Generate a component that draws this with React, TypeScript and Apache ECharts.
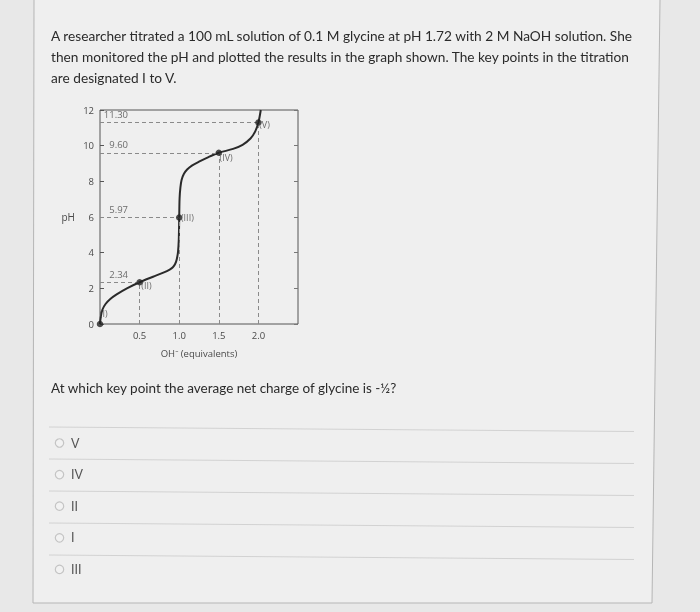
import { useEffect, useRef } from "react";
import * as echarts from "echarts";

// titration curve
const curveEq = [0, 0.01, 0.03, 0.07, 0.13, 0.21, 0.34, 0.5, 0.67, 0.8, 0.88, 0.92, 0.95, 0.97, 0.985, 0.995, 1.0, 1.005, 1.015, 1.03, 1.06, 1.1, 1.16, 1.25, 1.37, 1.5, 1.68, 1.8, 1.9, 1.96, 2.0, 2.03];
const curvePH = [0, 0.4, 0.8, 1.12, 1.4, 1.66, 2.0, 2.34, 2.65, 2.88, 3.05, 3.18, 3.38, 3.65, 4.05, 4.75, 5.97, 7.05, 7.65, 8.08, 8.42, 8.66, 8.88, 9.1, 9.36, 9.6, 9.82, 10.05, 10.4, 10.8, 11.3, 12];

// key points I..V
const keyNames = ["(I)", "(II)", "(III)", "(IV)", "(V)"];
const keyEq = [0, 0.5, 1.0, 1.5, 2.0];
const keyPH = [0, 2.34, 5.97, 9.6, 11.3];

const xTicks = ["0.5", "1.0", "1.5", "2.0"];

const questionLines = [
  "A researcher titrated a 100 mL solution of 0.1 M glycine at pH 1.72 with 2 M NaOH solution. She",
  "then monitored the pH and plotted the results in the graph shown. The key points in the titration",
  "are designated I to V.",
];
const questionText = "At which key point the average net charge of glycine is -½?";
const answers = ["V", "IV", "II", "I", "III"];

const CHART_FONT = "'Open Sans', 'Noto Sans', sans-serif";
const PAGE_FONT = "Lato, 'Noto Sans', sans-serif";
const INK = "#4a4a4a";

// label offsets for the key point names (pixels from the dot)
const keyLabelPos = [
  [3, -7],
  [5, 6],
  [5, 3],
  [4, 8],
  [4, 5],
];

const App = () => {
  const chartRef = useRef<HTMLDivElement>(null);

  useEffect(() => {
    if (!chartRef.current) {
      return;
    }
    const chart = echarts.init(chartRef.current, null, { renderer: "svg" });

    const guideLines: any[] = [];
    keyEq.forEach((x, i) => {
      if (i === 0) return;
      const ph = keyPH[i];
      guideLines.push([{ coord: [0, ph] }, { coord: [x, ph] }]);
      guideLines.push([{ coord: [x, 0] }, { coord: [x, ph] }]);
    });

    const graphic: any[] = [
      { type: "rect", z: -100, shape: { x: 0, y: 0, width: 700, height: 612 }, style: { fill: "#e8e8e8" } },
      {
        type: "polygon",
        z: -90,
        shape: { points: [[34, -2], [660, -2], [652, 603], [33, 603]] },
        style: { fill: "#efefef" },
      },
      { type: "line", z: -80, shape: { x1: 34, y1: 0, x2: 33, y2: 603 }, style: { stroke: "#b5b5b5", lineWidth: 1 } },
      { type: "line", z: -80, shape: { x1: 660, y1: 0, x2: 652, y2: 603 }, style: { stroke: "#b5b5b5", lineWidth: 1 } },
      { type: "line", z: -80, shape: { x1: 33, y1: 603, x2: 652, y2: 603 }, style: { stroke: "#b5b5b5", lineWidth: 1 } },
    ];

    questionLines.forEach((line, i) => {
      graphic.push({
        type: "text",
        x: 51,
        y: 35 + i * 21,
        style: { text: line, font: `13.7px ${PAGE_FONT}`, fill: "#2b2b2b", verticalAlign: "middle" },
      });
    });
    graphic.push({
      type: "text",
      x: 51,
      y: 388,
      style: { text: questionText, font: `13.5px ${PAGE_FONT}`, fill: "#2b2b2b", verticalAlign: "middle" },
    });

    answers.forEach((a, i) => {
      const yl = 427 + i * 32;
      graphic.push({
        type: "line",
        z: -70,
        shape: { x1: 49, y1: yl, x2: 634, y2: yl + 4.5 },
        style: { stroke: "#d2d2d2", lineWidth: 1 },
      });
      const yc = 443 + i * 31.6;
      graphic.push({
        type: "circle",
        shape: { cx: 59.5, cy: yc, r: 4.2 },
        style: { fill: "#f2f2f2", stroke: "#c4c4c4", lineWidth: 1.2 },
      });
      graphic.push({
        type: "text",
        x: 71,
        y: yc,
        style: { text: a, font: `12.5px ${PAGE_FONT}`, fill: "#555", verticalAlign: "middle" },
      });
    });

    const option: echarts.EChartsOption = {
      animation: false,
      backgroundColor: "transparent",
      textStyle: { fontFamily: CHART_FONT },
      graphic,
      grid: {
        left: 100,
        top: 110,
        width: 198,
        height: 214,
        show: true,
        borderColor: "#555",
        borderWidth: 1,
        backgroundColor: "transparent",
      },
      xAxis: {
        type: "value",
        min: 0,
        max: 2.5,
        interval: 0.5,
        name: "OH\u207B (equivalents)",
        nameLocation: "middle",
        nameGap: 24,
        nameTextStyle: { color: INK, fontSize: 9.5, fontFamily: CHART_FONT },
        axisLine: { show: false },
        axisTick: { show: false },
        splitLine: { show: false },
        axisLabel: {
          color: INK,
          fontSize: 9.5,
          margin: 6,
          formatter: (v: number) => (xTicks.includes(v.toFixed(1)) ? v.toFixed(1) : ""),
        },
      },
      yAxis: [
        {
          type: "value",
          min: 0,
          max: 12,
          interval: 2,
          name: "pH",
          nameLocation: "middle",
          nameRotate: 0,
          nameGap: 25,
          nameTextStyle: { color: INK, fontSize: 10, fontFamily: CHART_FONT },
          axisLine: { show: false },
          axisTick: { show: true, inside: true, length: 4, lineStyle: { color: "#555" } },
          splitLine: { show: false },
          axisLabel: { color: INK, fontSize: 9.5, margin: 6 },
        },
        {
          type: "value",
          position: "right",
          min: 0,
          max: 12,
          interval: 2,
          axisLine: { show: false },
          axisTick: { show: true, inside: true, length: 4, lineStyle: { color: "#777" } },
          splitLine: { show: false },
          axisLabel: { show: false },
        },
      ],
      series: [
        {
          type: "line",
          name: "curve",
          data: curveEq.map((x, i) => [x, curvePH[i]]),
          smooth: 0.3,
          showSymbol: false,
          silent: true,
          lineStyle: { color: "#2a2a2a", width: 2 },
          markLine: {
            silent: true,
            symbol: "none",
            animation: false,
            label: { show: false },
            lineStyle: { color: "#8a8a8a", width: 1, type: [4, 3] },
            data: guideLines,
          },
          z: 3,
        },
        {
          // pH values written above the horizontal guides
          type: "scatter",
          name: "values",
          symbolSize: 0,
          silent: true,
          data: keyPH.slice(1).map((ph) => [0, ph]),
          label: {
            show: true,
            position: [28, -3],
            align: "right",
            verticalAlign: "bottom",
            color: INK,
            fontSize: 9.5,
            formatter: (p: any) => p.value[1].toFixed(2),
          },
          z: 4,
        },
        {
          type: "scatter",
          name: "key points",
          symbol: "circle",
          symbolSize: 6.5,
          silent: true,
          itemStyle: { color: "#222" },
          data: keyEq.map((x, i) => ({
            value: [x, keyPH[i]],
            name: keyNames[i],
            label: { position: keyLabelPos[i] as any },
          })),
          label: {
            show: true,
            align: "left",
            verticalAlign: "middle",
            color: INK,
            fontSize: 9,
            formatter: (p: any) => p.name,
          },
          z: 5,
        },
      ],
    };

    chart.setOption(option);

    return () => {
      chart.dispose();
    };
  }, []);

  return (
    <div
      ref={chartRef}
      style={{ position: "fixed", left: 0, top: 0, width: 700, height: 612 }}
    />
  );
};

export default App;
